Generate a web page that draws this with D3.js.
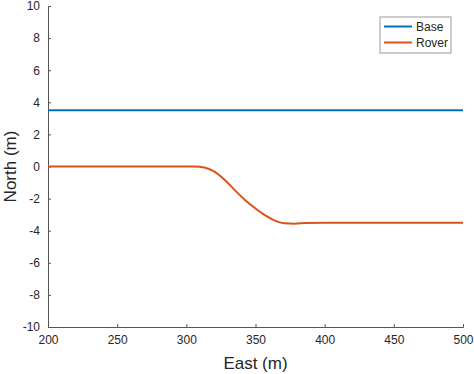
<!DOCTYPE html>
<html>
<head>
<meta charset="utf-8">
<script src="https://cdn.jsdelivr.net/npm/d3@7"></script>
<style>
  body { margin: 0; background: #fff; }
  svg { display: block; font-family: "Liberation Sans", Arial, sans-serif; }
</style>
</head>
<body>
<div id="chart"></div>
<script>
// Data
const baseEast = [200, 500];
const baseNorth = [3.5, 3.5];
const roverEast = [200, 306, 313, 320, 328, 335, 342, 350, 357, 364, 371, 378, 386, 400, 500];
const roverNorth = [0, 0, -0.06, -0.3, -0.85, -1.47, -2.05, -2.62, -3.05, -3.37, -3.54, -3.56, -3.52, -3.5, -3.5];
const xTicks = [200, 250, 300, 350, 400, 450, 500];
const yTicks = [-10, -8, -6, -4, -2, 0, 2, 4, 6, 8, 10];
const seriesNames = ["Base", "Rover"];
const seriesColors = ["#0072BD", "#D95319"];

const width = 474, height = 374;
const margin = { top: 6, right: 11, bottom: 47, left: 48 };
const innerW = width - margin.left - margin.right;
const innerH = height - margin.top - margin.bottom;

const svg = d3.select("#chart").append("svg")
  .attr("width", width)
  .attr("height", height);

const g = svg.append("g")
  .attr("transform", `translate(${margin.left},${margin.top})`);

const x = d3.scaleLinear().domain([200, 500]).range([0, innerW]);
const y = d3.scaleLinear().domain([-10, 10]).range([innerH, 0]);

// Axes (ticks point inward, MATLAB style, plain hyphen for minus)
const axisColor = "#555";
const fmt = d => String(d);

g.append("g")
  .attr("transform", `translate(0,${innerH})`)
  .call(d3.axisBottom(x).tickValues(xTicks).tickFormat(fmt).tickSize(-3).tickPadding(8))
  .call(a => a.select(".domain").attr("stroke", axisColor))
  .call(a => a.selectAll(".tick line").attr("stroke", axisColor))
  .call(a => a.selectAll("text").attr("fill", "#262626").style("font-size", "12px"));

g.append("g")
  .call(d3.axisLeft(y).tickValues(yTicks).tickFormat(fmt).tickSize(-3).tickPadding(8))
  .call(a => a.select(".domain").attr("stroke", axisColor))
  .call(a => a.selectAll(".tick line").attr("stroke", axisColor))
  .call(a => a.selectAll("text").attr("fill", "#262626").style("font-size", "12px"));

// Lines
const line = d3.line()
  .x(d => x(d[0]))
  .y(d => y(d[1]))
  .curve(d3.curveMonotoneX);

const series = [
  d3.zip(baseEast, baseNorth),
  d3.zip(roverEast, roverNorth)
];

g.selectAll("path.series")
  .data(series)
  .enter()
  .append("path")
  .attr("class", "series")
  .attr("d", line)
  .attr("fill", "none")
  .attr("stroke", (d, i) => seriesColors[i])
  .attr("stroke-width", 2);

// Axis labels
svg.append("text")
  .attr("x", margin.left + innerW / 2)
  .attr("y", 369)
  .attr("text-anchor", "middle")
  .attr("fill", "#262626")
  .style("font-size", "17px")
  .text("East (m)");

svg.append("text")
  .attr("transform", `translate(16,${margin.top + innerH / 2}) rotate(-90)`)
  .attr("text-anchor", "middle")
  .attr("fill", "#262626")
  .style("font-size", "17px")
  .text("North (m)");

// Legend
const legend = svg.append("g").attr("transform", "translate(380,17)");
legend.append("rect")
  .attr("width", 71)
  .attr("height", 36)
  .attr("fill", "#fff")
  .attr("stroke", "#999");

seriesNames.forEach((name, i) => {
  const row = legend.append("g").attr("transform", `translate(0,${9.5 + i * 16})`);
  row.append("line")
    .attr("x1", 4).attr("x2", 32)
    .attr("stroke", seriesColors[i])
    .attr("stroke-width", 2);
  row.append("text")
    .attr("x", 36)
    .attr("dy", "0.35em")
    .attr("fill", "#262626")
    .style("font-size", "12px")
    .text(name);
});
</script>
</body>
</html>
